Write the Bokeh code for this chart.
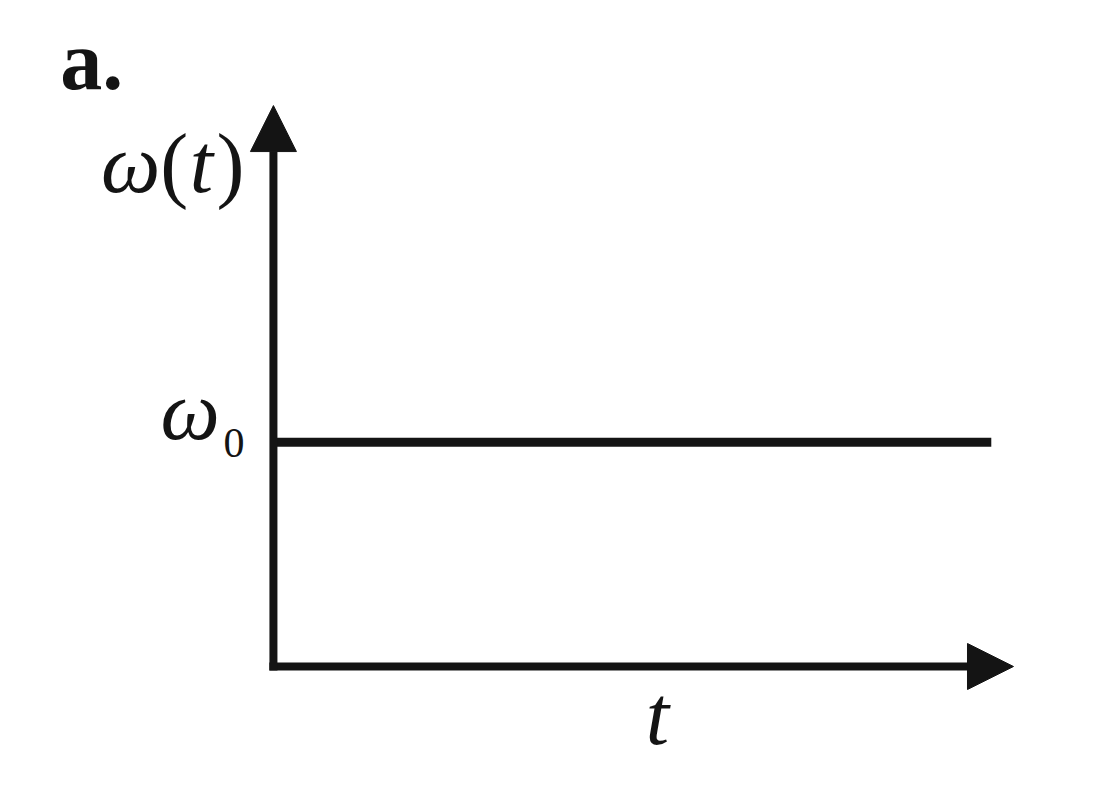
from bokeh.plotting import figure
from bokeh.models import Arrow, NormalHead, Label, Range1d
from bokeh.embed import file_html
from bokeh.resources import INLINE

# the curve: constant angular velocity omega_0
t_vals = [0, 9.7]
omega0 = 0.40
omega_vals = [omega0, omega0]

# axis extents (arrow tips)
t_max = 10
omega_max = 1

INK = "#141414"
SERIF = "Liberation Serif"

p = figure(width=1079, height=780, output_backend="svg", toolbar_location=None,
           x_range=Range1d(-3.688, 10.892), y_range=Range1d(-0.2032, 1.1873),
           min_border=0)
p.axis.visible = False
p.grid.visible = False
p.outline_line_color = None
p.background_fill_color = "white"

# axes drawn as arrows
p.add_layout(Arrow(end=NormalHead(size=46, fill_color=INK, line_color=INK),
                   x_start=-0.055, y_start=0, x_end=t_max, y_end=0,
                   line_width=8, line_color=INK))
p.add_layout(Arrow(end=NormalHead(size=46, fill_color=INK, line_color=INK),
                   x_start=0, y_start=-0.007, x_end=0, y_end=omega_max,
                   line_width=8, line_color=INK))

# omega(t) = omega_0
p.line(t_vals, omega_vals, line_width=9, line_color=INK)

def label(x, y, text, size="84px", style="italic"):
    p.add_layout(Label(x=x, y=y, text=text, text_font=SERIF, text_font_size=size,
                       text_font_style=style, text_color=INK,
                       text_align="left", text_baseline="alphabetic"))

label(-2.88, 1.0805, "a.", style="bold")

# y axis title, omega(t)
label(-2.33, 0.8965, "ω")
label(-1.53, 0.8965, "(", style="normal")
label(-1.13, 0.8965, "t")
label(-0.77, 0.8965, ")", style="normal")

# omega_0 tick label
label(-1.527, 0.4565, "ω")
label(-0.676, 0.399, "0", size="42px", style="normal")

# x axis title
label(5.03, -0.0875, "t")

open("out.html", "w").write(file_html(p, INLINE))
